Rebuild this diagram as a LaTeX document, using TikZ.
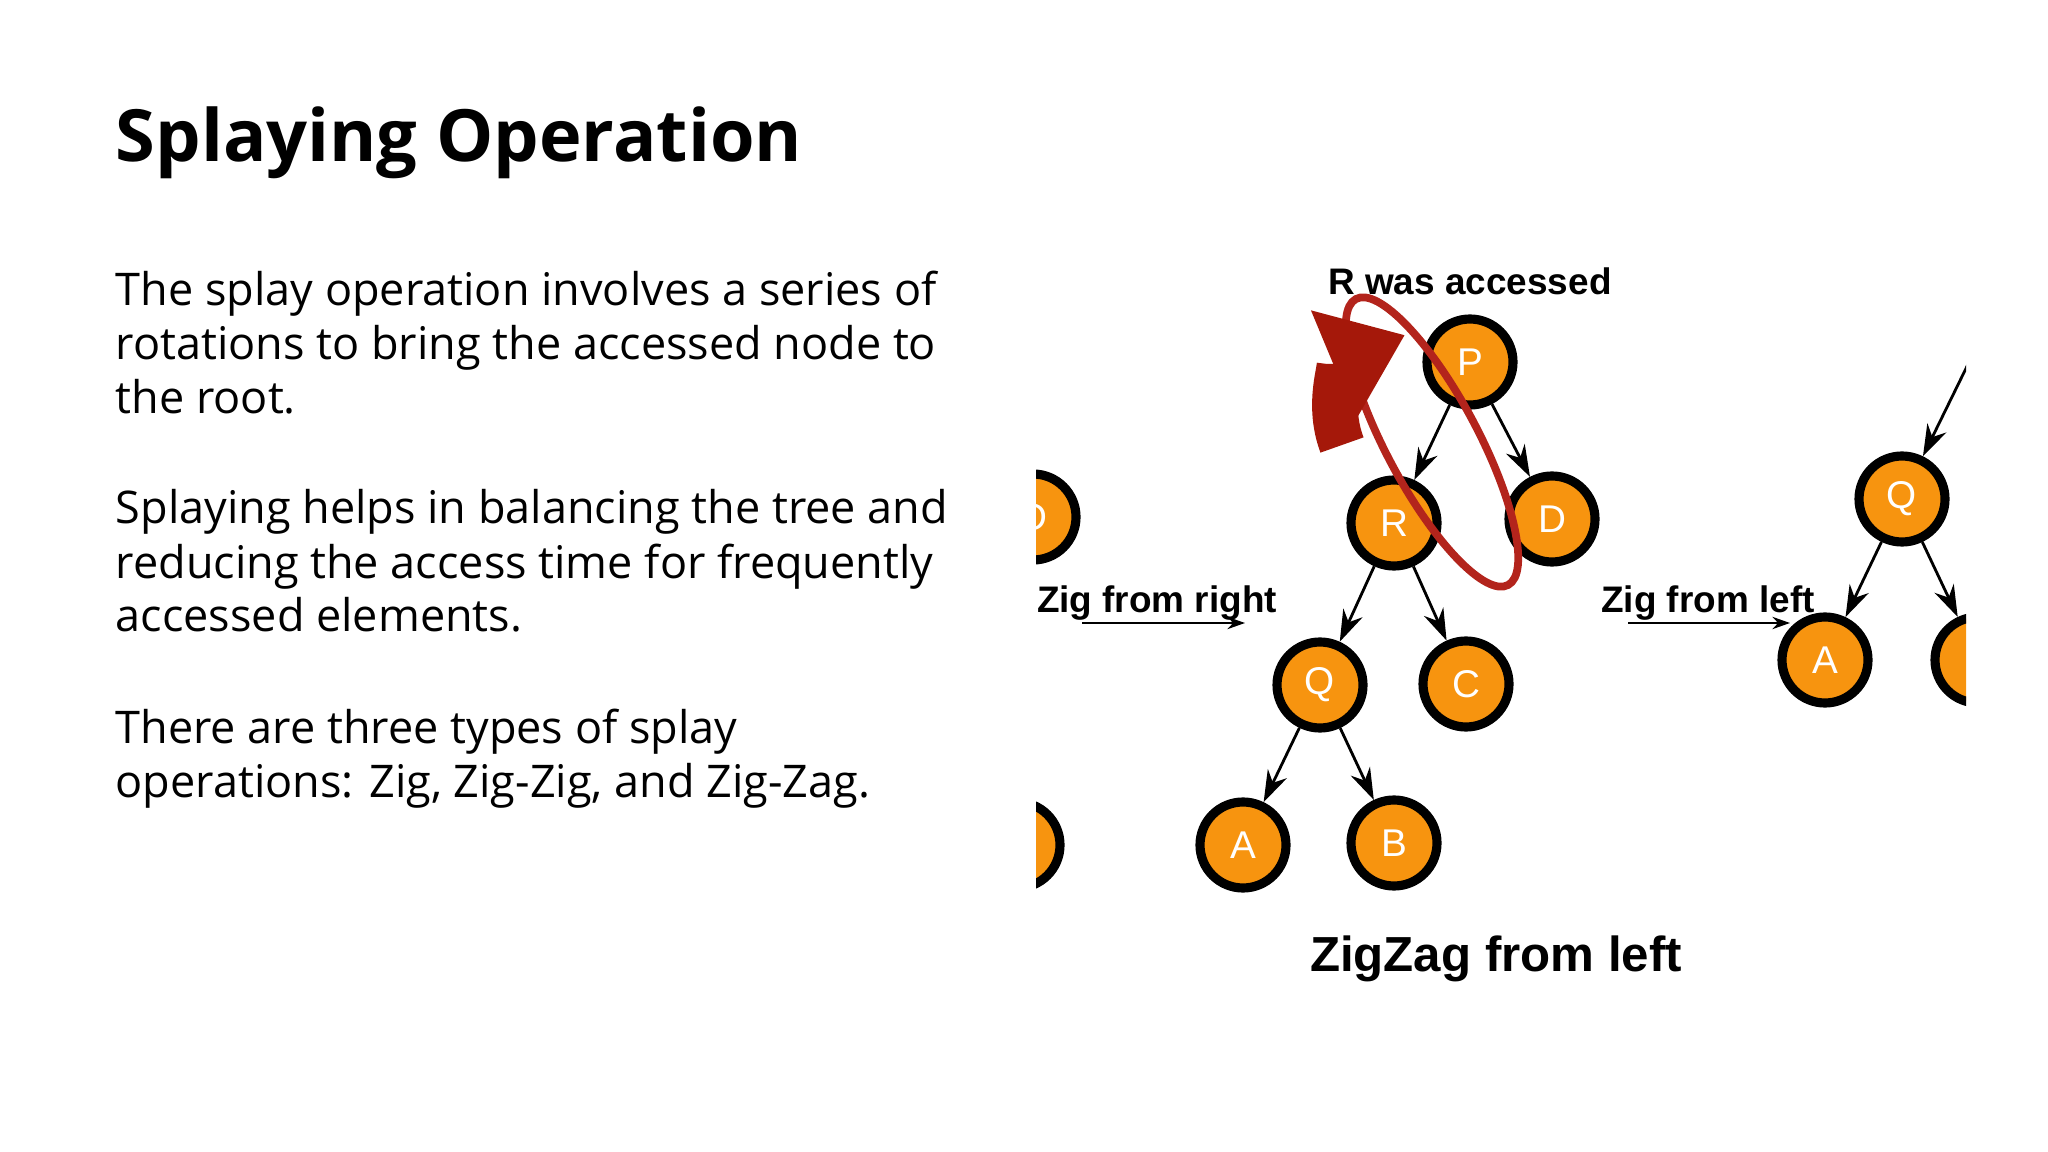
\documentclass[tikz,border=0pt]{standalone}
\usepackage{fontspec}
\setmainfont{Open Sans}
\newfontfamily\arialf{Liberation Sans}
\usetikzlibrary{arrows.meta}
\definecolor{nodeor}{HTML}{F7940F}
\definecolor{redc}{HTML}{B3241C}
\definecolor{arrred}{HTML}{A5180A}
\tikzset{
  tn/.style={circle,draw=black,line width=2.6pt,fill=nodeor,minimum size=86\pxu,inner sep=0pt,text=white,font=\arialf\fontsize{11}{12}\selectfont},
  edge/.style={-{Stealth[length=9pt,width=6pt]},line width=0.8pt},
  lbl/.style={font=\arialf\bfseries\fontsize{10.5}{12}\selectfont},
  body/.style={anchor=base west,font=\fontsize{12.8}{15}\selectfont,inner sep=0pt}
}
\newlength\pxu \setlength\pxu{0.01cm}
\begin{document}
\begin{tikzpicture}[x=0.01cm,y=-0.01cm]
\useasboundingbox (0,0) rectangle (2048,1152);
\node[anchor=base west,inner sep=0pt,font=\bfseries\fontsize{20.5}{24}\selectfont] (title) at (115,162) {Splaying Operation};
\node[body] (l1) at (115,306) {The splay operation involves a series of};
\node[body] (l2) at (115,360) {rotations to bring the accessed node to};
\node[body] (l3) at (115,414) {the root.};
\node[body] (l4) at (115,524) {Splaying helps in balancing the tree and};
\node[body] (l5) at (115,578) {reducing the access time for frequently};
\node[body] (l6) at (115,632) {accessed elements.};
\node[body] (l7) at (115,743) {There are three types of splay};
\node[body] (l8) at (115,797) {operations: Zig, Zig-Zig, and Zig-Zag.};
\begin{scope}
\clip (1036,230) rectangle (1966,1000);
\node[tn] (lp1) at (1033,517) {D};
\node[tn] (lp2) at (1017,845) {A};
\node[tn] (P) at (1470,362) {P};
\node[tn] (R) at (1394,523) {R};
\node[tn] (D) at (1552,519) {D};
\node[tn] (Q) at (1320,685) {Q};
\node[tn] (C) at (1466,684) {C};
\node[tn] (A) at (1243,845) {A};
\node[tn] (B) at (1394,843) {B};
\node[tn] (Q2) at (1902,499) {Q};
\node[tn] (A2) at (1825,660) {A};
\node[tn] (B2) at (1978,660) {B};
\coordinate (top2) at (1975,350);
\draw[edge] (P) -- (R);
\draw[edge] (P) -- (D);
\draw[edge] (R) -- (Q);
\draw[edge] (R) -- (C);
\draw[edge] (Q) -- (A);
\draw[edge] (Q) -- (B);
\draw[edge] (top2) -- (Q2);
\draw[edge] (Q2) -- (A2);
\draw[edge] (Q2) -- (B2);
\draw[redc,line width=2.2pt,rotate around={-62:(1432,442)}] (1432,442) ellipse [x radius=162,y radius=46];
\end{scope}
\node[lbl] (acc) at (1470,281) {R was accessed};
\node[lbl] (zr) at (1157,603) {Zig from right};
\coordinate (zra) at (1082,623); \coordinate (zrb) at (1245,623);
\draw[-{Stealth[length=5pt,width=3.5pt]},line width=0.6pt] (zra) -- (zrb);
\node[lbl] (zl) at (1708,603) {Zig from left};
\coordinate (zla) at (1628,623); \coordinate (zlb) at (1790,623);
\draw[-{Stealth[length=5pt,width=3.5pt]},line width=0.6pt] (zla) -- (zlb);
\node[font=\arialf\bfseries\fontsize{14}{16}\selectfont] (zz) at (1496,959) {ZigZag from left};
\coordinate (ra) at (1342,445); \coordinate (rb) at (1405,335);
\draw[arrred,line width=13pt,-{Triangle[length=22pt,width=32pt]}] (ra) .. controls (1325,400) and (1345,360) .. (rb);
\end{tikzpicture}
\end{document}
